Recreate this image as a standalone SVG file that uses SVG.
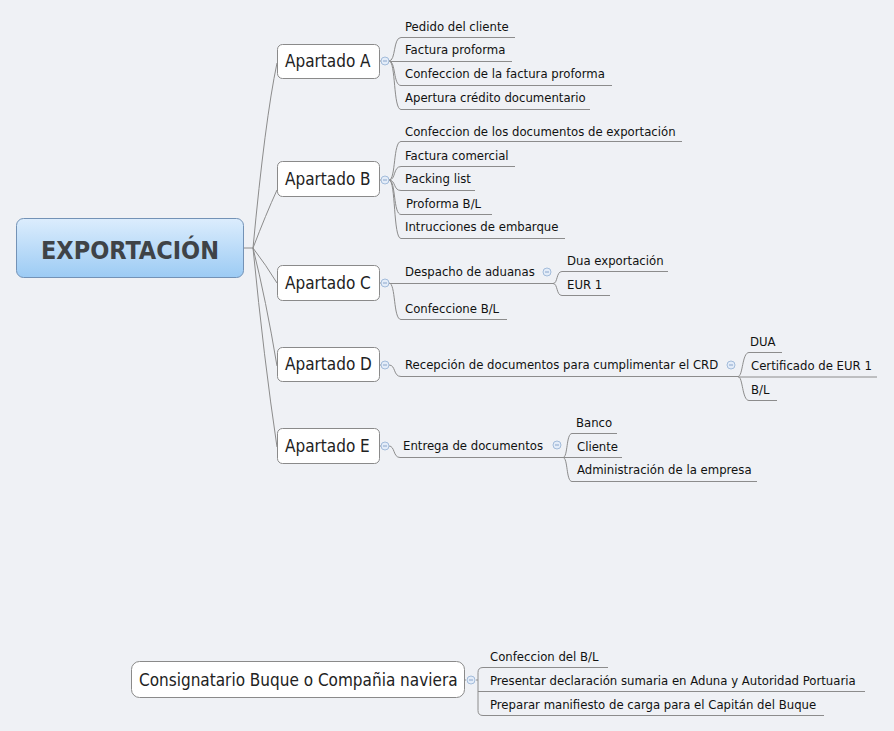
<svg xmlns="http://www.w3.org/2000/svg" width="894" height="731" viewBox="0 0 894 731">
<defs>
<linearGradient id="cg" x1="0" y1="0" x2="0" y2="1">
<stop offset="0" stop-color="#dcedfd"/>
<stop offset="1" stop-color="#9ccbf4"/>
</linearGradient>
<g id="btn"><circle r="4" fill="#e3ecf8" stroke="#a3bcdb" stroke-width="1"/><line x1="-2" y1="0" x2="2" y2="0" stroke="#8aa6cc" stroke-width="1"/></g>
</defs>
<style>
.t{font-family:"DejaVu Sans Condensed","DejaVu Sans",sans-serif;font-size:13px;fill:#111}
.m{font-family:"DejaVu Sans Condensed","DejaVu Sans",sans-serif;font-size:17px;fill:#222}
.c{font-family:"DejaVu Sans Condensed","DejaVu Sans",sans-serif;font-size:25px;font-weight:bold;fill:#3f4347}
.box{fill:#fff;stroke:#8a8a8a;stroke-width:1}
.ln{fill:none;stroke:#8c8c8c;stroke-width:1}
</style>
<rect width="894" height="731" fill="#eff1f5"/>
<g id="connectors">
<path class="ln" d="M244,248 H253"/>
<path class="ln" d="M253,248 Q265,120 277,63"/>
<path class="ln" d="M253,248 Q266,214 277,190"/>
<path class="ln" d="M253,248 Q266,265 277,283"/>
<path class="ln" d="M253,248 Q266,300 277,366"/>
<path class="ln" d="M253,248 Q264,360 277,447"/>
<!-- A -->
<path class="ln" d="M379,61 H381"/>
<path class="ln" d="M389,61 C396,61 393,37.5 401,37.5 H515"/>
<path class="ln" d="M389,61.5 H512"/>
<path class="ln" d="M389,61 C396,61 393,85.5 401,85.5 H612"/>
<path class="ln" d="M389,61 C396,61 393,109.5 401,109.5 H590"/>
<!-- B -->
<path class="ln" d="M379,180 H381"/>
<path class="ln" d="M389,180 C396,180 393,141.5 401,141.5 H682"/>
<path class="ln" d="M389,180 C396,180 393,166.5 401,166.5 H515"/>
<path class="ln" d="M389,180 C396,180 393,190.5 401,190.5 H475"/>
<path class="ln" d="M389,180 C396,180 393,214.5 401,214.5 H492"/>
<path class="ln" d="M389,180 C396,180 393,238.5 401,238.5 H565"/>
<!-- C -->
<path class="ln" d="M379,283 H381"/>
<path class="ln" d="M389,283.5 H553"/>
<path class="ln" d="M553,283.5 C558,283.5 556,271.5 562,271.5 H668"/>
<path class="ln" d="M553,283.5 C558,283.5 556,295.5 562,295.5 H610"/>
<path class="ln" d="M389,283 C396,283 393,319.5 401,319.5 H507"/>
<!-- D -->
<path class="ln" d="M379,365 H381"/>
<path class="ln" d="M389,365 C396,365 393,376.5 401,376.5 H738"/>
<path class="ln" d="M738,376.5 C743,376.5 742,352.5 749,352.5 H782"/>
<path class="ln" d="M738,377 H877"/>
<path class="ln" d="M738,376.5 C743,376.5 742,400.5 749,400.5 H777"/>
<!-- E -->
<path class="ln" d="M379,446 H381"/>
<path class="ln" d="M389,446 C395,446 393,457.5 400,457.5 H563"/>
<path class="ln" d="M563,457.5 C568,457.5 566,433.5 572,433.5 H617"/>
<path class="ln" d="M563,457.5 H622"/>
<path class="ln" d="M563,457.5 C568,457.5 566,481.5 572,481.5 H757"/>
<!-- Consignatario -->
<path class="ln" d="M464,680 H466"/>
<path class="ln" d="M476,680 H478"/>
<path class="ln" d="M608,667.5 H483 Q478,667.5 478,672.5 V710.5 Q478,715.5 483,715.5 H824"/>
<path class="ln" d="M478,691.5 H865"/>
</g>
<g id="root">
<rect x="16.5" y="218.5" width="227" height="59" rx="7" fill="url(#cg)" stroke="#7392b6"/>
<text class="c" x="130" y="259" text-anchor="middle">EXPORTACIÓN</text>
</g>
<g id="apartadoA">
<rect class="box" x="277.5" y="44.5" width="102" height="34" rx="5"/>
<text class="m" x="285" y="67">Apartado A</text>
<use href="#btn" x="385" y="61"/>
</g>
<g id="a-children">
<text class="t" x="405" y="31">Pedido del cliente</text>
<text class="t" x="405" y="54">Factura proforma</text>
<text class="t" x="405" y="78">Confeccion de la factura proforma</text>
<text class="t" x="405" y="102">Apertura crédito documentario</text>
</g>
<g id="apartadoB">
<rect class="box" x="277.5" y="161.5" width="102" height="35" rx="5"/>
<text class="m" x="285" y="185">Apartado B</text>
<use href="#btn" x="385" y="180"/>
</g>
<g id="b-children">
<text class="t" x="405" y="136">Confeccion de los documentos de exportación</text>
<text class="t" x="405" y="160">Factura comercial</text>
<text class="t" x="405" y="183">Packing list</text>
<text class="t" x="406" y="208">Proforma B/L</text>
<text class="t" x="405" y="231">Intrucciones de embarque</text>
</g>
<g id="apartadoC">
<rect class="box" x="277.5" y="265.5" width="102" height="35" rx="5"/>
<text class="m" x="285" y="289">Apartado C</text>
<use href="#btn" x="385" y="283"/>
</g>
<g id="c-children">
<text class="t" x="405" y="276">Despacho de aduanas</text>
<use href="#btn" x="547" y="272"/>
<text class="t" x="567" y="265">Dua exportación</text>
<text class="t" x="567" y="289">EUR 1</text>
<text class="t" x="405" y="313">Confeccione B/L</text>
</g>
<g id="apartadoD">
<rect class="box" x="277.5" y="347.5" width="102" height="34" rx="5"/>
<text class="m" x="285" y="370">Apartado D</text>
<use href="#btn" x="385" y="365"/>
</g>
<g id="d-children">
<text class="t" x="405" y="369">Recepción de documentos para cumplimentar el CRD</text>
<use href="#btn" x="731" y="365"/>
<text class="t" x="750" y="346">DUA</text>
<text class="t" x="751" y="370">Certificado de EUR 1</text>
<text class="t" x="751" y="394">B/L</text>
</g>
<g id="apartadoE">
<rect class="box" x="277.5" y="428.5" width="102" height="35" rx="5"/>
<text class="m" x="285" y="452">Apartado E</text>
<use href="#btn" x="385" y="446"/>
</g>
<g id="e-children">
<text class="t" x="403" y="450">Entrega de documentos</text>
<use href="#btn" x="557" y="445"/>
<text class="t" x="576" y="427">Banco</text>
<text class="t" x="577" y="451">Cliente</text>
<text class="t" x="577" y="474">Administración de la empresa</text>
</g>
<g id="consignatario">
<rect class="box" x="131.5" y="661.5" width="333" height="36" rx="8"/>
<text class="m" x="139" y="686">Consignatario Buque o Compañia naviera</text>
<use href="#btn" x="471" y="680"/>
</g>
<g id="consig-children">
<text class="t" x="490" y="661">Confeccion del B/L</text>
<text class="t" x="490" y="685">Presentar declaración sumaria en Aduna y Autoridad Portuaria</text>
<text class="t" x="490" y="709">Preparar manifiesto de carga para el Capitán del Buque</text>
</g>
</svg>
